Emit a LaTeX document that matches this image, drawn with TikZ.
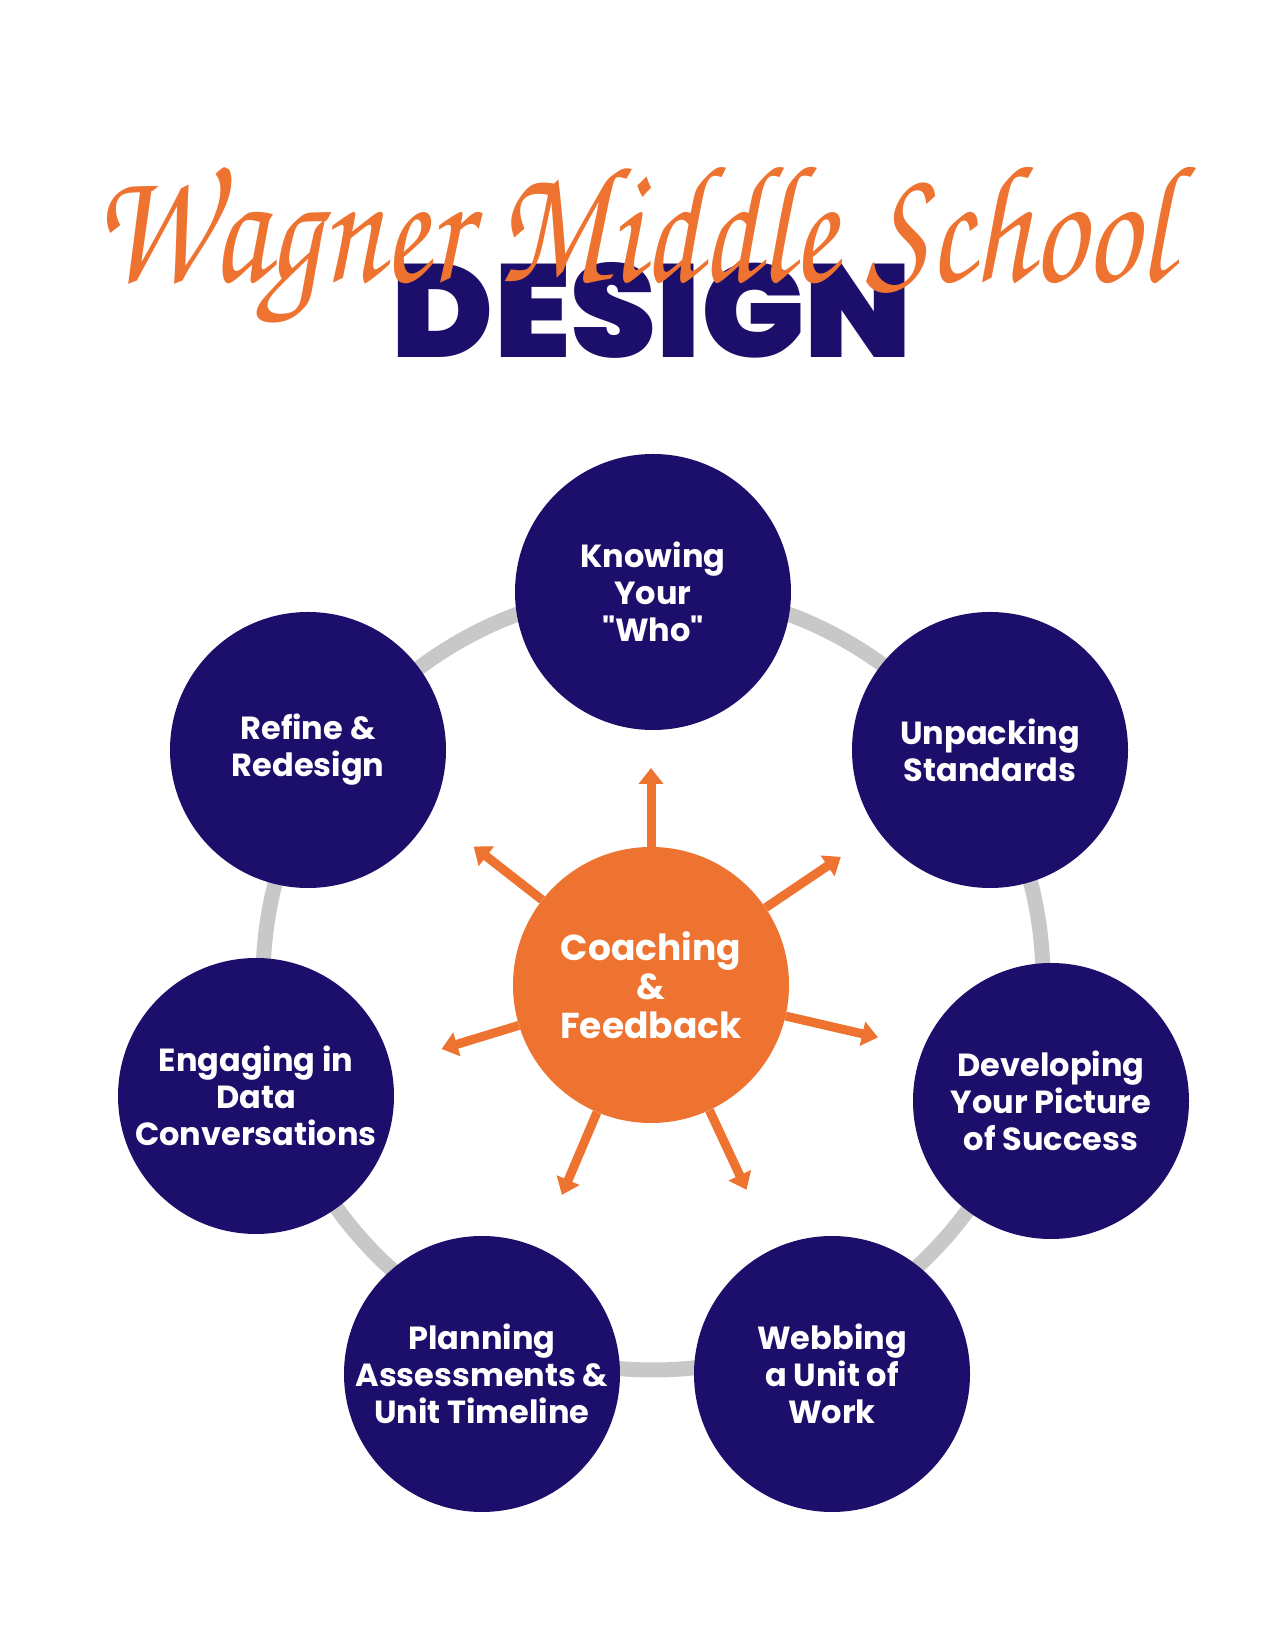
\documentclass[tikz,border=0pt]{standalone}
\usepackage{fontspec}
\setmainfont{Poppins}
\newfontfamily\titlefont{TeX Gyre Chorus}
\newfontfamily\designfont{Poppins Black}
\usetikzlibrary{arrows.meta,calc,positioning}
\definecolor{navy}{HTML}{1C0E6B}
\definecolor{wagorange}{HTML}{EE7330}
\definecolor{ringgrey}{HTML}{C8C8C8}

\begin{document}
\begin{tikzpicture}[x=1pt,y=1pt,>={Triangle[width=24pt,length=16pt]},
	stage/.style={circle,fill=navy,text=white,minimum size=276pt,inner sep=0pt,align=center,font=\bfseries\fontsize{32}{37}\selectfont},
	hub/.style={circle,fill=wagorange,text=white,minimum size=276pt,inner sep=0pt,align=center,font=\bfseries\fontsize{36}{39}\selectfont},
	spoke/.style={->,draw=wagorange,line width=9pt}]
	\useasboundingbox[fill=white] (0,0) rectangle (1276,1650);
	% heading
	\node[text=navy,anchor=base,inner sep=0pt] (design) at (652,1292) {\resizebox{520pt}{95pt}{\designfont DESIGN}};
	\node[text=wagorange,anchor=base,inner sep=0pt] (title) at (632,1368) {\resizebox{1075pt}{114pt}{\titlefont Wagner Middle School}};
	% ring behind the stages
	\coordinate (ringc) at (653,670);
	\draw[ringgrey,line width=15pt] (ringc) circle (390pt);
	\node[stage] (who) at (653,1058) {Knowing\\Your\\\textquotedbl Who\textquotedbl};
	\node[stage] (unpack) at (990,900) {Unpacking\\Standards};
	\node[stage] (picture) at (1051,549) {Developing\\Your Picture\\of Success};
	\node[stage] (webbing) at (832,276) {Webbing\\a Unit of\\Work};
	\node[stage] (planning) at (482,276) {Planning\\Assessments \&\\Unit Timeline};
	\node[stage] (data) at (256,554) {Engaging in\\Data\\Conversations};
	\node[stage] (refine) at (308,900) {Refine \&\\Redesign};
	% centre and its arrows
	\node[hub] (coach) at (651,665) {Coaching\\\&\\Feedback};
	\foreach \ang/\len [count=\i] in {90/217,142/225,34/229,197/219,347/233,247/228,295/226}{
		\coordinate (tip\i) at ($(coach)+(\ang:\len)$);
		\draw[spoke] (coach) -- (tip\i);
	}
\end{tikzpicture}
\end{document}
